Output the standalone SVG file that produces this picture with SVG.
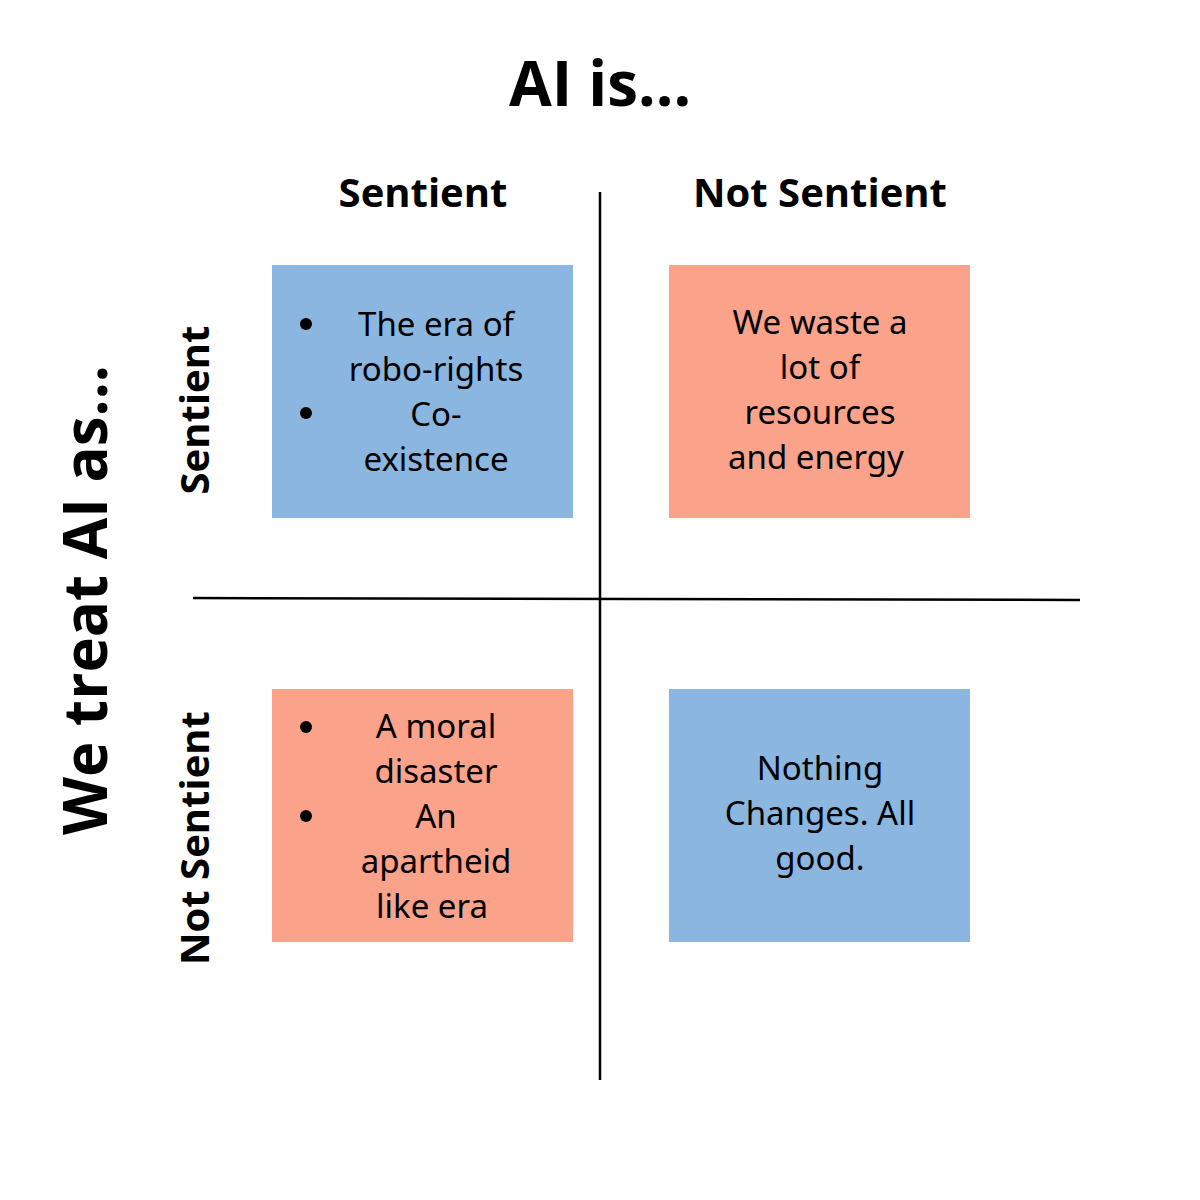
<svg xmlns="http://www.w3.org/2000/svg" width="1200" height="1200" viewBox="0 0 1200 1200">
<style>
.title{font-family:"Open Sans","Noto Sans",sans-serif;font-weight:700;fill:#000;text-anchor:middle}
.hdr{font-family:"Open Sans","Noto Sans",sans-serif;font-weight:700;font-size:40px;fill:#000;text-anchor:middle}
.body{font-family:"Noto Sans","Open Sans",sans-serif;font-size:33px;fill:#000;text-anchor:middle}
.blue{fill:#8AB6E0}
.red{fill:#FBA28A}
.ax{stroke:#000;stroke-width:2.5;fill:none}
</style>
<rect width="1200" height="1200" fill="#fff"/>
<text class="title" x="600" y="106" font-size="62">AI is...</text>
<text class="title" transform="translate(107,600) rotate(-90)" font-size="60">We treat AI as...</text>
<text class="hdr" x="423" y="207">Sentient</text>
<text class="hdr" x="820" y="207">Not Sentient</text>
<text class="hdr" transform="translate(209,410) rotate(-90)">Sentient</text>
<text class="hdr" transform="translate(209,838) rotate(-90)">Not Sentient</text>
<g id="connectors">
<line class="ax" x1="600" y1="192" x2="600" y2="1080"/>
<line class="ax" x1="193" y1="598" x2="1080" y2="600"/>
</g>
<g id="q-ss">
<rect class="blue" x="272" y="265" width="301" height="253"/>
<circle cx="306" cy="324" r="6"/>
<circle cx="306" cy="413" r="6"/>
<text class="body" x="436" y="336">The era of</text>
<text class="body" x="436" y="381">robo-rights</text>
<text class="body" x="436" y="426">Co-</text>
<text class="body" x="436" y="471">existence</text>
</g>
<g id="q-sn">
<rect class="red" x="669" y="265" width="301" height="253"/>
<text class="body" x="820" y="334">We waste a</text>
<text class="body" x="820" y="379">lot of</text>
<text class="body" x="820" y="424">resources</text>
<text class="body" x="816" y="469">and energy</text>
</g>
<g id="q-ns">
<rect class="red" x="272" y="689" width="301" height="253"/>
<circle cx="306" cy="727" r="6"/>
<circle cx="306" cy="816" r="6"/>
<text class="body" x="436" y="738">A moral</text>
<text class="body" x="436" y="783">disaster</text>
<text class="body" x="436" y="828">An</text>
<text class="body" x="436" y="873">apartheid</text>
<text class="body" x="432" y="918">like era</text>
</g>
<g id="q-nn">
<rect class="blue" x="669" y="689" width="301" height="253"/>
<text class="body" x="820" y="780">Nothing</text>
<text class="body" x="820" y="825">Changes. All</text>
<text class="body" x="820" y="870">good.</text>
</g>
</svg>
